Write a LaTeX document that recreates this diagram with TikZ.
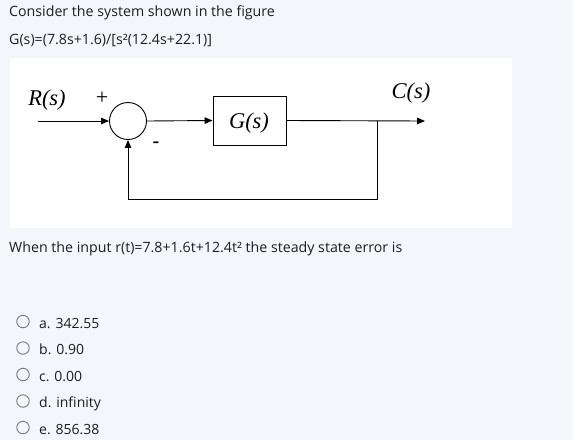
\documentclass[tikz,border=0pt]{standalone}
\usepackage{fontspec}
\setmainfont{Open Sans}
\newfontfamily\timesf{Liberation Serif}
\usetikzlibrary{arrows.meta}
\definecolor{pagebg}{HTML}{F3F7FB}
\definecolor{txt}{HTML}{1E1E1E}
\definecolor{radio}{HTML}{7A7A7A}
\tikzset{
  qtext/.style={anchor=base west, inner sep=0pt, text=txt, font=\fontsize{14.2}{17}\selectfont},
  opt/.style={anchor=base west, inner sep=0pt, text=txt, font=\fontsize{14}{17}\selectfont},
  radiob/.style={circle, draw=radio, line width=0.9pt, minimum size=12.5pt, inner sep=0pt},
  sig/.style={line width=0.9pt, -{Triangle[length=8pt,width=6.5pt]}},
  wire/.style={line width=0.9pt},
  lab/.style={inner sep=0pt, font=\timesf\itshape\fontsize{22.5}{26}\selectfont},
  sgn/.style={inner sep=0pt, font=\timesf\fontsize{22}{24}\selectfont},
}
\begin{document}
\begin{tikzpicture}[x=1pt,y=-1pt]
\fill[pagebg] (0,0) rectangle (573,440);
\useasboundingbox (0,0) rectangle (573,440);
\fill[white] (10,58) rectangle (512,228);

\node[qtext] (l1) at (9,16) {Consider the system shown in the figure};
\node[qtext] (l2) at (9,44.5) {G(s)=(7.8s+1.6)/[s²(12.4s+22.1)]};

% block diagram
\node[circle, draw, line width=0.9pt, minimum size=37pt, inner sep=0pt] (sum) at (128,121) {};
\node[draw, line width=0.9pt, minimum width=73pt, minimum height=49pt, inner sep=0pt] (G) at (249.5,120.5) {};
\node[lab] (Gl) at (249,123) {G(s)};
\node[lab] (R) at (47,100) {R(s)};
\node[lab] (C) at (411,93) {C(s)};
\node[sgn] (plus) at (102,98) {+};
\node[sgn, font=\timesf\bfseries\fontsize{20}{24}\selectfont] (minus) at (156,145) {-};
\coordinate (in) at (38,121);
\coordinate (out) at (425,121);
\coordinate (br) at (377,121);
\coordinate (fb1) at (377,199);
\coordinate (fb2) at (128,199);

\draw[sig] (in) -- (sum.west);
\draw[sig] (sum.east) -- (G.west);
\draw[sig] (G.east) -- (out);
\draw[sig] (br) -- (fb1) -- (fb2) -- (sum.south);

\node[qtext] (l3) at (9,252) {When the input r(t)=7.8+1.6t+12.4t² the steady state error is};

\node[radiob] (ra) at (23,321.5) {};
\node[radiob] (rb) at (23,348) {};
\node[radiob] (rc) at (23,374.5) {};
\node[radiob] (rd) at (23,401) {};
\node[radiob] (re) at (23,427.5) {};
\node[opt] (oa) at (39,328) {a. 342.55};
\node[opt] (ob) at (39,354.5) {b. 0.90};
\node[opt] (oc) at (39,381) {c. 0.00};
\node[opt] (od) at (39,407.5) {d. infinity};
\node[opt] (oe) at (39,434) {e. 856.38};
\end{tikzpicture}
\end{document}
